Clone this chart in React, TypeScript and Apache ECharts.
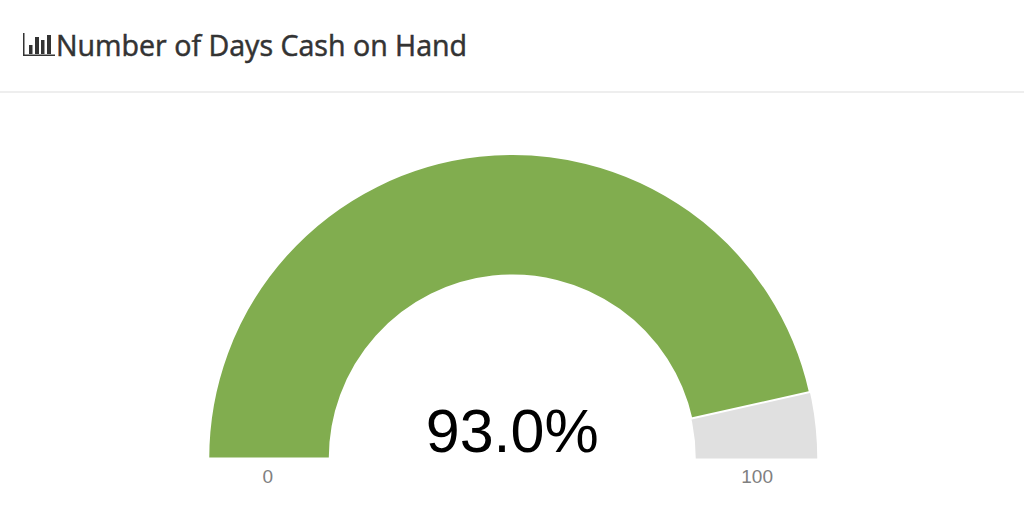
import React, { useEffect, useRef } from "react";
import * as echarts from "echarts";

const titleText = "Number of Days Cash on Hand";
const gaugeValue = 93;
const gaugeMin = 0;
const gaugeMax = 100;
const valueLabel = "93.0%";

const GREEN = "#81ad4f";
const GRAY = "#e0e0e0";

const iconBars: [number, number, number, number][] = [
  [29, 45, 3.5, 9],
  [35, 37, 4, 17],
  [41, 40, 3.5, 14],
  [47, 35, 4, 19],
];

const tickText = {
  color: "#808080",
  fontSize: 19,
  fontFamily: "Liberation Sans",
};

export default function App() {
  const ref = useRef<HTMLDivElement>(null);
  useEffect(() => {
    document.body.style.margin = "0";
    const chart = echarts.init(ref.current!, undefined, { renderer: "svg" });
    chart.setOption({
      animation: false,
      backgroundColor: "#ffffff",
      graphic: [
        {
          type: "text",
          x: 56,
          y: 44.5,
          style: {
            text: titleText,
            font: "400 28.6px 'Open Sans'",
            fill: "#333333",
            stroke: "#333333",
            lineWidth: 0.5,
            textVerticalAlign: "middle",
          },
        },
        { type: "rect", shape: { x: 0, y: 91, width: 1024, height: 2 }, style: { fill: "#eeeeee" } },
        { type: "rect", shape: { x: 23, y: 33, width: 1.5, height: 23 }, style: { fill: "#333333" } },
        { type: "rect", shape: { x: 23, y: 54.5, width: 32, height: 1.5 }, style: { fill: "#333333" } },
        ...iconBars.map(([x, y, width, height]) => ({
          type: "rect",
          shape: { x, y, width, height },
          style: { fill: "#333333" },
        })),
      ],
      series: [
        {
          type: "gauge",
          center: [512.75, 458.5],
          radius: 304.5,
          startAngle: 180,
          endAngle: 0,
          min: gaugeMin,
          max: gaugeMax,
          splitNumber: 1,
          axisLine: { show: true, roundCap: false, lineStyle: { width: 121.5, color: [[1, GRAY]] } },
          progress: {
            show: true,
            width: 121.5,
            overlap: false,
            itemStyle: { color: GREEN, borderColor: "#ffffff", borderWidth: 2 },
          },
          pointer: { show: false },
          axisTick: { show: false },
          splitLine: { show: false, length: 0 },
          axisLabel: {
            show: true,
            distance: 34.25,
            verticalAlign: "middle",
            formatter: (v: number) => (v === gaugeMax ? `{tickMax|${v}}` : `{tick|${v}}`),
            rich: {
              tick: { ...tickText, padding: [36, 0, 0, 10] },
              tickMax: { ...tickText, padding: [36, 0, 0, 0] },
            },
          },
          title: { show: false },
          detail: {
            show: true,
            valueAnimation: false,
            offsetCenter: [-0.5, -28],
            formatter: () => valueLabel,
            color: "#000000",
            fontSize: 61,
            fontWeight: "normal",
            fontFamily: "Liberation Sans",
          },
          data: [{ value: gaugeValue }],
        },
      ],
    });
    return () => chart.dispose();
  }, []);
  return <div ref={ref} style={{ width: 1024, height: 526 }} />;
}
